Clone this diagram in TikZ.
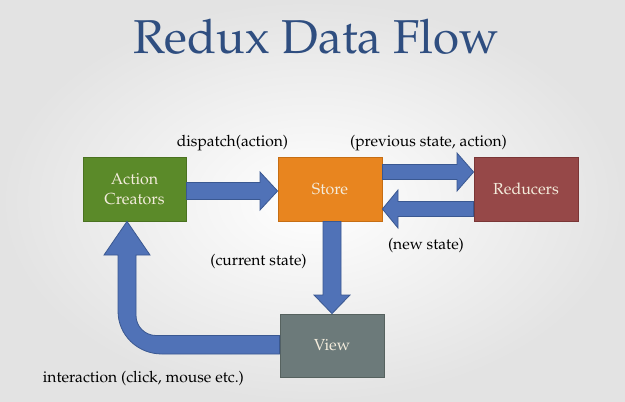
\documentclass[tikz,border=0pt]{standalone}
\usepackage[T1]{fontenc}
\usepackage{mathpazo}
\usetikzlibrary{calc}
\definecolor{bgout}{HTML}{E3E3E3}
\definecolor{titleblue}{HTML}{2F4E80}
\definecolor{acgreen}{HTML}{5B8A29}
\definecolor{acgreenD}{HTML}{4A7220}
\definecolor{storeor}{HTML}{E8851F}
\definecolor{storeorD}{HTML}{C66E14}
\definecolor{redred}{HTML}{964848}
\definecolor{redredD}{HTML}{7A3636}
\definecolor{viewgray}{HTML}{6C7A7A}
\definecolor{viewgrayD}{HTML}{56625F}
\definecolor{arrblue}{HTML}{5072B7}
\definecolor{arrblueD}{HTML}{3A5891}
\definecolor{cream}{HTML}{F3ECDC}
\tikzset{
  box/.style={draw, line width=0.8pt, minimum width=104pt, minimum height=64pt,
    align=center, text=cream, font=\fontsize{16}{19.5}\selectfont, inner sep=0pt},
  barrow/.style={fill=arrblue, draw=arrblueD, line width=0.8pt, line join=miter},
  lbl/.style={font=\fontsize{15.6}{18}\selectfont, text=black, inner sep=0pt, anchor=base},
}
\begin{document}
\begin{tikzpicture}[x=1pt,y=-1pt]
\useasboundingbox (0,0) rectangle (625,402);
\shade[inner color=white, outer color=bgout] (0,0) rectangle (625,402);

\node[font=\fontsize{47.5}{52}\selectfont, text=titleblue, inner sep=0pt, anchor=base] (title) at (316,53.5) {Redux Data Flow};

\node[box, fill=acgreen, draw=acgreenD, minimum width=103pt] (ac) at (134.5,189) {Action\\Creators};
\node[box, fill=storeor, draw=storeorD] (st) at (330,189) {Store};
\node[box, fill=redred, draw=redredD] (rd) at (526,189) {Reducers};
\node[box, fill=viewgray, draw=viewgrayD, minimum height=63pt] (vw) at (332,345.5) {View};

% Action Creators -> Store
\draw[barrow] (ac.east |- 0,182.5) -- (260,182.5) -- (260,172) -- (st.west |- 0,191)
  -- (260,210) -- (260,199.5) -- (ac.east |- 0,199.5) -- cycle;
% Store -> Reducers
\draw[barrow] (st.east |- 0,164.5) -- (457,164.5) -- (457,153) -- (rd.west |- 0,172)
  -- (457,191) -- (457,179.5) -- (st.east |- 0,179.5) -- cycle;
% Reducers -> Store
\draw[barrow] (rd.west |- 0,201.5) -- (398,201.5) -- (398,190) -- (st.east |- 0,209)
  -- (398,228) -- (398,216.5) -- (rd.west |- 0,216.5) -- cycle;
% Store -> View
\draw[barrow] (st.south -| 323,0) -- (323,295) -- (314,295) -- (vw.north)
  -- (350,295) -- (341,295) -- (st.south -| 341,0) -- cycle;
% View -> Action Creators
\draw[barrow] (vw.west |- 0,335.5) -- (156,335.5) .. controls (145,335.5) and (136,326.5) .. (136,315.5)
  -- (136,255) -- (150,255) -- (ac.south -| 127,0) -- (104,255) -- (118,255) -- (118,311)
  .. controls (118,335.3) and (137.7,354) .. (162,354) -- (vw.west |- 0,354) -- cycle;

\node[lbl] (l1) at (232.5,146.5) {dispatch(action)};
\node[lbl] (l2) at (428.5,146.5) {(previous state, action)};
\node[lbl] (l3) at (426,249) {(new state)};
\node[lbl] (l4) at (258.5,265) {(current state)};
\node[lbl, anchor=base west] (l5) at (42.7,382.7) {interaction (click, mouse etc.)};
\end{tikzpicture}
\end{document}
